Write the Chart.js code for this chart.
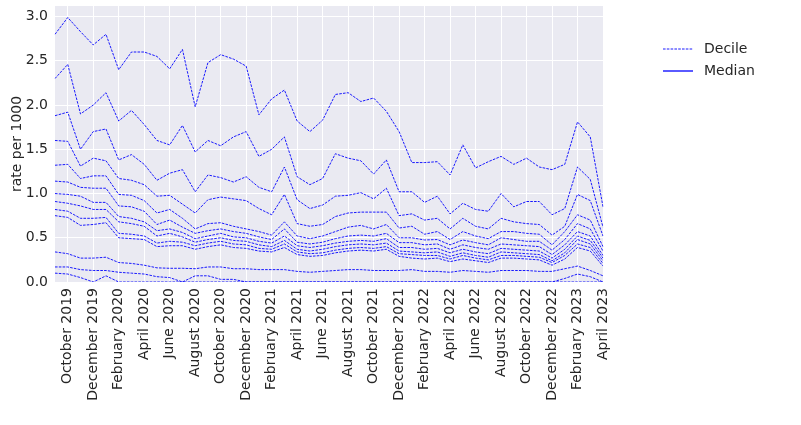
<!DOCTYPE html>
<html>
<head>
<meta charset="utf-8">
<script src="https://cdn.jsdelivr.net/npm/chart.js@4/dist/chart.umd.min.js"></script>
<style>
html,body{margin:0;padding:0;background:#ffffff;}
#wrap{width:801px;height:425px;}
</style>
</head>
<body>
<div id="wrap"><canvas id="c" width="801" height="425"></canvas></div>
<script>
// ---- data ----
const months = [
 "September 2019","October 2019","November 2019","December 2019",
 "January 2020","February 2020","March 2020","April 2020","May 2020","June 2020",
 "July 2020","August 2020","September 2020","October 2020","November 2020","December 2020",
 "January 2021","February 2021","March 2021","April 2021","May 2021","June 2021",
 "July 2021","August 2021","September 2021","October 2021","November 2021","December 2021",
 "January 2022","February 2022","March 2022","April 2022","May 2022","June 2022",
 "July 2022","August 2022","September 2022","October 2022","November 2022","December 2022",
 "January 2023","February 2023","March 2023","April 2023"
];
const yTicks = [0.0, 0.5, 1.0, 1.5, 2.0, 2.5, 3.0];

const line01 = [2.80,2.99,2.83,2.68,2.80,2.40,2.60,2.60,2.55,2.41,2.63,1.98,2.48,2.57,2.52,2.44,1.89,2.07,2.17,1.82,1.70,1.83,2.12,2.14,2.04,2.08,1.93,1.70,1.35,1.35,1.36,1.21,1.55,1.29,1.36,1.42,1.33,1.40,1.30,1.27,1.33,1.81,1.64,0.85];
const line02 = [2.30,2.46,1.90,2.00,2.14,1.82,1.94,1.78,1.60,1.55,1.77,1.47,1.60,1.54,1.64,1.70,1.42,1.50,1.64,1.19,1.10,1.17,1.45,1.40,1.37,1.22,1.38,1.02,1.02,0.90,0.97,0.77,0.89,0.82,0.80,1.00,0.85,0.91,0.91,0.76,0.83,1.30,1.16,0.62];
const line03 = [1.88,1.92,1.50,1.70,1.73,1.38,1.44,1.33,1.15,1.23,1.27,1.02,1.21,1.18,1.13,1.19,1.07,1.02,1.30,0.93,0.83,0.87,0.97,0.98,1.01,0.94,1.06,0.75,0.77,0.70,0.72,0.60,0.72,0.63,0.60,0.72,0.68,0.66,0.65,0.53,0.63,0.99,0.92,0.52];
const line04 = [1.60,1.59,1.31,1.40,1.37,1.17,1.15,1.10,0.97,0.98,0.88,0.78,0.93,0.96,0.94,0.92,0.83,0.76,0.99,0.66,0.63,0.65,0.74,0.78,0.79,0.79,0.79,0.61,0.63,0.54,0.57,0.48,0.57,0.52,0.49,0.57,0.57,0.55,0.54,0.42,0.57,0.76,0.70,0.40];
const line05 = [1.32,1.33,1.17,1.20,1.20,0.99,0.98,0.92,0.78,0.82,0.72,0.60,0.66,0.67,0.63,0.60,0.57,0.53,0.68,0.52,0.49,0.52,0.57,0.62,0.64,0.60,0.65,0.50,0.50,0.475,0.48,0.42,0.475,0.445,0.42,0.50,0.48,0.46,0.46,0.36,0.48,0.66,0.60,0.35];
const line06 = [1.14,1.13,1.07,1.06,1.06,0.86,0.85,0.80,0.65,0.70,0.62,0.55,0.58,0.60,0.57,0.55,0.51,0.48,0.60,0.45,0.43,0.45,0.49,0.52,0.53,0.52,0.55,0.445,0.445,0.42,0.43,0.37,0.42,0.39,0.37,0.43,0.42,0.41,0.40,0.31,0.42,0.57,0.52,0.30];
const line07 = [1.00,0.99,0.97,0.90,0.90,0.74,0.72,0.68,0.58,0.60,0.56,0.49,0.52,0.55,0.51,0.50,0.46,0.44,0.52,0.41,0.39,0.41,0.44,0.46,0.47,0.46,0.49,0.39,0.39,0.37,0.38,0.33,0.37,0.34,0.32,0.38,0.37,0.36,0.35,0.27,0.37,0.52,0.47,0.27];
const line08 = [0.91,0.89,0.86,0.82,0.82,0.68,0.66,0.63,0.52,0.55,0.51,0.45,0.48,0.50,0.47,0.46,0.42,0.40,0.47,0.37,0.35,0.37,0.40,0.42,0.43,0.42,0.44,0.35,0.34,0.33,0.34,0.29,0.33,0.30,0.28,0.34,0.33,0.32,0.31,0.24,0.33,0.48,0.43,0.24];
const line09 = [0.82,0.80,0.72,0.72,0.73,0.55,0.54,0.52,0.44,0.46,0.45,0.41,0.44,0.46,0.43,0.42,0.38,0.37,0.43,0.34,0.32,0.33,0.36,0.38,0.39,0.38,0.40,0.32,0.31,0.30,0.30,0.26,0.30,0.27,0.25,0.30,0.30,0.29,0.28,0.22,0.30,0.43,0.39,0.21];
const line10 = [0.75,0.73,0.64,0.65,0.67,0.50,0.49,0.48,0.40,0.41,0.41,0.37,0.40,0.42,0.39,0.38,0.35,0.34,0.39,0.31,0.29,0.30,0.33,0.35,0.36,0.35,0.37,0.29,0.27,0.26,0.27,0.23,0.26,0.24,0.22,0.27,0.27,0.26,0.25,0.19,0.26,0.39,0.35,0.18];
const line11 = [0.34,0.32,0.27,0.27,0.28,0.22,0.21,0.19,0.16,0.155,0.155,0.15,0.17,0.17,0.15,0.15,0.14,0.14,0.14,0.12,0.11,0.12,0.13,0.14,0.14,0.13,0.13,0.13,0.14,0.12,0.12,0.11,0.13,0.12,0.11,0.13,0.13,0.13,0.12,0.12,0.15,0.18,0.13,0.07];
const line12 = [0.17,0.17,0.14,0.13,0.13,0.11,0.10,0.09,0.06,0.05,0.00,0.07,0.07,0.03,0.03,0.00,0,0,0,0,0,0,0,0,0,0,0,0,0,0,0,0,0,0,0,0,0,0,0,0.00,0.04,0.09,0.06,0.00];
const line13 = [0.10,0.09,0.05,0.00,0.07,0.00,0,0,0,0,0,0,0,0,0,0,0,0,0,0,0,0,0,0,0,0,0,0,0,0,0,0,0,0,0,0,0,0,0,0,0,0,0,0];

const decileSeries = [line01,line02,line03,line04,line05,line06,line07,line08,line09,line10,line11,line12,line13];

// ---- style ----
const BLUE = '#0000FF';
const DASH = [2.6, 1.2];
const FONT = "'DejaVu Sans', sans-serif";

const datasets = decileSeries.map((s) => ({
  label: 'Decile',
  data: s,
  borderColor: BLUE,
  borderWidth: 0.9,
  borderDash: DASH,
  pointRadius: 0,
  tension: 0,
  fill: false
}));
datasets.push({
  label: 'Median',
  data: [],
  borderColor: BLUE,
  borderWidth: 1.2,
  pointRadius: 0,
  fill: false
});

const bgPlugin = {
  id: 'bg',
  beforeDraw(chart) {
    const {ctx, chartArea: a} = chart;
    ctx.save();
    ctx.fillStyle = '#EAEAF2';
    ctx.fillRect(a.left, a.top, a.right - a.left, a.bottom - a.top);
    ctx.restore();
  }
};

const legendPlugin = {
  id: 'sideLegend',
  afterDraw(chart) {
    const ctx = chart.ctx;
    const items = [
      {text: 'Decile', dash: DASH, width: 0.9, y: 49},
      {text: 'Median', dash: [], width: 1.3, y: 71}
    ];
    ctx.save();
    items.forEach(it => {
      ctx.beginPath();
      ctx.setLineDash(it.dash);
      ctx.strokeStyle = BLUE;
      ctx.lineWidth = it.width;
      ctx.moveTo(663, it.y);
      ctx.lineTo(693, it.y);
      ctx.stroke();
      ctx.setLineDash([]);
      ctx.fillStyle = '#262626';
      ctx.font = "14px " + FONT;
      ctx.textBaseline = 'middle';
      ctx.textAlign = 'left';
      ctx.fillText(it.text, 704, it.y);
    });
    ctx.restore();
  }
};

new Chart(document.getElementById('c'), {
  type: 'line',
  data: { labels: months, datasets },
  plugins: [bgPlugin, legendPlugin],
  options: {
    responsive: false,
    animation: false,
    devicePixelRatio: 1,
    layout: { padding: { top: 6, right: 198, bottom: 0, left: 0 } },
    plugins: { legend: { display: false }, tooltip: { enabled: false } },
    scales: {
      x: {
        type: 'category',
        offset: false,
        border: { display: false },
        grid: {
          drawTicks: false,
          lineWidth: 1,
          color: (c) => (c.index % 2 === 1 ? '#FFFFFF' : 'rgba(0,0,0,0)')
        },
        ticks: {
          autoSkip: false,
          maxRotation: 90,
          minRotation: 90,
          padding: 6,
          color: '#262626',
          font: { family: FONT, size: 14 },
          callback: function(v, i) { return i % 2 === 1 ? months[i] : ''; }
        },
        afterFit(scale) { scale.height = 143; scale.paddingLeft = 0; scale.paddingRight = 0; }
      },
      y: {
        type: 'linear',
        min: 0,
        max: 3.12,
        border: { display: false },
        grid: { drawTicks: false, color: '#FFFFFF', lineWidth: 1 },
        ticks: {
          stepSize: 0.5,
          includeBounds: false,
          padding: 7,
          color: '#262626',
          font: { family: FONT, size: 14 },
          callback: (v) => (yTicks.includes(Math.round(v*10)/10) ? v.toFixed(1) : '')
        },
        title: {
          display: true,
          text: 'rate per 1000',
          color: '#262626',
          font: { family: FONT, size: 14 },
          padding: { top: 9, bottom: 4 }
        },
        afterFit(scale) { scale.width = 55; scale.paddingTop = 0; scale.paddingBottom = 0; }
      }
    }
  }
});
</script>
</body>
</html>
